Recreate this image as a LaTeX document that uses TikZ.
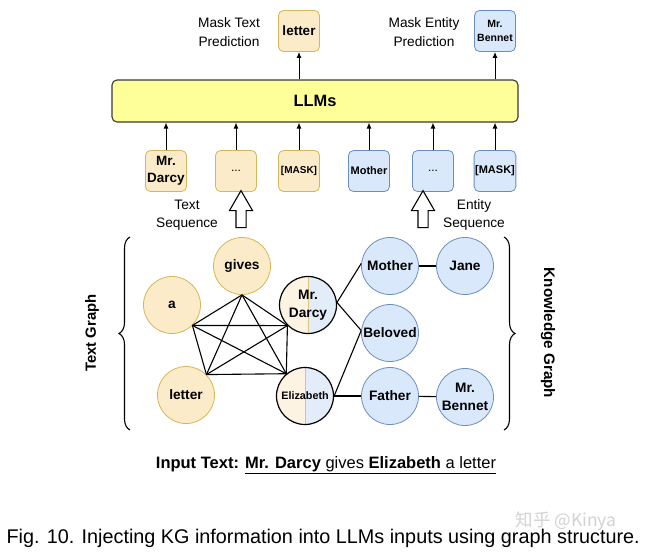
\documentclass[tikz,border=0pt]{standalone}
\usepackage{fontspec}
\setmainfont{Liberation Sans}
\newfontfamily\cjk{Noto Sans CJK SC}
\usetikzlibrary{arrows.meta,shapes.arrows,decorations.pathreplacing}
\definecolor{tanfill}{HTML}{FCEBC8}
\definecolor{tanline}{HTML}{D6B656}
\definecolor{tanpale}{HTML}{FDF3E2}
\definecolor{bluefill}{HTML}{DAE8FC}
\definecolor{blueline}{HTML}{6C8EBF}
\definecolor{bluepale}{HTML}{E3ECF9}
\definecolor{llmfill}{HTML}{FFFF99}
\definecolor{llmline}{HTML}{36393D}

\begin{document}
\begin{tikzpicture}[x=1pt, y=-1pt, >={Latex[length=6pt,width=5pt]},
	tok/.style={draw=tanline, fill=tanfill, line width=0.8pt, rounded corners=5pt, minimum size=41pt, inner sep=1pt, align=center, font=\bfseries\fontsize{13.5}{17}\selectfont},
	ent/.style={tok, draw=blueline, fill=bluefill},
	tcirc/.style={circle, draw=tanline, fill=tanfill, line width=0.8pt, minimum size=57pt, inner sep=0pt, align=center, font=\bfseries\fontsize{13.7}{18}\selectfont},
	kcirc/.style={tcirc, draw=blueline, fill=bluefill},
	mixcirc/.style={tcirc, draw=black, line width=1.2pt, path picture={
		\fill[tanpale] (path picture bounding box.south west) rectangle (path picture bounding box.north);
		\fill[bluepale] (path picture bounding box.south) rectangle (path picture bounding box.north east);
		\draw[tanline!80, line width=0.5pt] (path picture bounding box.south) -- (path picture bounding box.north);}},
	lbl/.style={align=center, font=\fontsize{13.7}{18.5}\selectfont},
	edge/.style={line width=1.1pt},
	hollow/.style={single arrow, draw, line width=1.1pt, fill=white, shape border rotate=90, minimum height=37pt, single arrow head extend=6.5pt, single arrow tip angle=60, inner sep=4.5pt},
	gbrace/.style={decorate, decoration={brace, amplitude=11pt}, line width=1.1pt}]
	\useasboundingbox (0,0) rectangle (645,552);

	% outputs
	\node[lbl] (mtp) at (229,32) {Mask Text\\Prediction};
	\node[tok] (ptext) at (299,31) {letter};
	\node[lbl] (mep) at (424,32) {Mask Entity\\Prediction};
	\node[ent, font=\bfseries\fontsize{10.5}{14}\selectfont] (pent) at (495,31) {Mr.\\Bennet};

	% LLMs
	\node[draw=llmline, fill=llmfill, line width=1.1pt, rounded corners=5pt, minimum width=406pt, minimum height=42pt, font=\bfseries\fontsize{16.4}{20}\selectfont] (llm) at (315,101) {LLMs};
	\draw[->, line width=1pt] (llm.north -| ptext) -- (ptext.south);
	\draw[->, line width=1pt] (llm.north -| pent) -- (pent.south);

	% sequences
	\node[tok] (s1) at (166,171) {Mr.\\Darcy};
	\node[tok, font=\fontsize{12}{14}\selectfont] (s2) at (236,171) {...};
	\node[tok, font=\bfseries\fontsize{10}{12}\selectfont] (s3) at (299,171) {[MASK]};
	\node[ent, font=\bfseries\fontsize{11}{13}\selectfont] (s4) at (369,171) {Mother};
	\node[ent, font=\fontsize{12}{14}\selectfont] (s5) at (433,171) {...};
	\node[ent, font=\bfseries\fontsize{11}{13}\selectfont] (s6) at (495,171) {[MASK]};
	\foreach \s in {s1,s2,s3,s4,s5,s6}
		\draw[->, line width=1pt] (\s.north) -- (llm.south -| \s);

	\node[lbl] (tseq) at (187,215) {Text\\Sequence};
	\node[lbl] (eseq) at (474,215) {Entity\\Sequence};
	\node[hollow] (up1) at (241,213.5) {};
	\node[hollow] (up2) at (423,213.5) {};

	% text graph
	\node[tcirc] (gives) at (242,266) {gives};
	\node[tcirc] (a) at (172,305) {a};
	\node[tcirc] (letter) at (186,395) {letter};
	\node[mixcirc] (darcy) at (308,305) {Mr.\\Darcy};
	\node[mixcirc, font=\bfseries\fontsize{10.8}{13}\selectfont] (eliz) at (305,396) {Elizabeth};

	% knowledge graph
	\node[kcirc] (mother) at (390,266) {Mother};
	\node[kcirc] (jane) at (465,266) {Jane};
	\node[kcirc] (beloved) at (390,333) {Beloved};
	\node[kcirc] (father) at (390,396) {Father};
	\node[kcirc] (bennet) at (465,397) {Mr.\\Bennet};

	\foreach \u/\v in {a.-45/gives.south, a.-45/letter.45, a.-45/darcy.-135, a.-45/eliz.130,
		gives.south/letter.45, gives.south/darcy.-135, gives.south/eliz.130,
		letter.45/darcy.-135, letter.45/eliz.130, darcy.-135/eliz.130}
		\draw[edge] (\u) -- (\v);
	\draw[edge] (darcy.5) -- (mother.175);
	\draw[edge] (darcy.5) -- (beloved.175);
	\draw[edge] (eliz.east) -- (beloved.175);
	\draw[edge] (eliz.east) -- (father.west);
	\draw[edge] (mother) -- (jane);
	\draw[edge] (father) -- (bennet);

	% braces
	\coordinate (lb1) at (130,430);
	\coordinate (lb2) at (130,237);
	\coordinate (rb1) at (504,237);
	\coordinate (rb2) at (504,430);
	\draw[gbrace] (lb1) -- (lb2);
	\draw[gbrace] (rb1) -- (rb2);
	\node[rotate=90, font=\bfseries\fontsize{14.8}{17}\selectfont] (tg) at (92,333) {Text Graph};
	\node[rotate=-90, font=\bfseries\fontsize{15.2}{17}\selectfont] (kg) at (548,333) {Knowledge Graph};

	% input and caption
	\node[font=\fontsize{16.5}{19}\selectfont] (input) at (326,465) {\textbf{Input Text:} \underline{\textbf{Mr. Darcy} gives \textbf{Elizabeth} a letter}};
	\node[font=\fontsize{19.8}{23}\selectfont, anchor=west] (cap) at (3,538) {Fig. 10. Injecting KG information into LLMs inputs using graph structure.};
	\node[text=gray!35, font=\fontsize{17.5}{20}\selectfont, anchor=west] (wm) at (512,521) {\cjk 知乎 @Kinya};
\end{tikzpicture}
\end{document}
